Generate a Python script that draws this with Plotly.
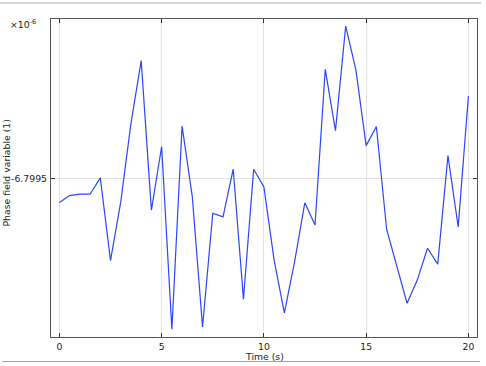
import plotly.graph_objects as go

time_s = [0, 0.5, 1, 1.5, 2, 2.5, 3, 3.5, 4, 4.5, 5, 5.5, 6, 6.5, 7, 7.5, 8, 8.5, 9, 9.5,
          10, 10.5, 11, 11.5, 12, 12.5, 13, 13.5, 14, 14.5, 15, 15.5, 16, 16.5, 17, 17.5,
          18, 18.5, 19, 19.5, 20]
# Phase field variable in units of 1e-6
phase_e6 = [-6.799553, -6.799538, -6.799535, -6.799535, -6.799499, -6.799681, -6.799552,
            -6.799379, -6.799241, -6.799570, -6.799430, -6.799832, -6.799385, -6.799541,
            -6.799827, -6.799577, -6.799585, -6.799480, -6.799766, -6.799480, -6.799519,
            -6.799680, -6.799796, -6.799684, -6.799554, -6.799603, -6.799260, -6.799395,
            -6.799165, -6.799262, -6.799428, -6.799386, -6.799612, -6.799691, -6.799775,
            -6.799724, -6.799654, -6.799689, -6.799450, -6.799607, -6.799319]
x_ticks = [0, 5, 10, 15, 20]
y_ticks = [-6.7995]
y_ticklabels = ["-6.7995"]

FONT = dict(family="DejaVu Sans", size=9.3, color="#222222")
PW, PH, L, B = 426, 318, 51, 29

fig = go.Figure()
fig.add_trace(go.Scatter(x=time_s, y=phase_e6, mode="lines",
                         line=dict(color="#2a46ff", width=1.2), showlegend=False))

axis_common = dict(showline=True, linecolor="#555555", linewidth=1.3, mirror="ticks",
                   ticks="inside", ticklen=4, tickcolor="#333333", showgrid=True,
                   gridcolor="#e3e3e3", gridwidth=1, zeroline=False, automargin=False,
                   tickfont=FONT)

fig.update_xaxes(range=[-0.41, 20.42], tickvals=x_ticks, ticklabelstandoff=1, **axis_common)
fig.update_yaxes(range=[-6.7998493, -6.7991493], tickvals=y_ticks, ticktext=y_ticklabels,
                 ticklabelstandoff=1, **axis_common)

fig.add_annotation(x=(264 - L) / PW, y=(337 - 356) / PH, xref="paper", yref="paper",
                   xanchor="center", yanchor="middle", text="Time (s)", showarrow=False,
                   font=FONT)
fig.add_annotation(x=(5.5 - L) / PW, y=(337 - 173) / PH, xref="paper", yref="paper",
                   xanchor="center", yanchor="middle", text="Phase field variable (1)",
                   textangle=-90, showarrow=False, font=FONT)
fig.add_annotation(x=(38 - L) / PW, y=(337 - 24) / PH, xref="paper", yref="paper",
                   xanchor="right", yanchor="middle", text="×10<sup>-6</sup>",
                   showarrow=False, font=FONT)

fig.add_shape(type="line", xref="paper", yref="paper", x0=-L / PW, x1=(481 - L) / PW,
              y0=(337 - 3) / PH, y1=(337 - 3) / PH, line=dict(color="#b0b0b0", width=1))
fig.add_shape(type="line", xref="paper", yref="paper", x0=(2 - L) / PW, x1=(480 - L) / PW,
              y0=(337 - 361.5) / PH, y1=(337 - 361.5) / PH, line=dict(color="#a0a0a0", width=1))

fig.update_layout(width=486, height=366, margin=dict(l=L, r=9, t=19, b=B),
                  paper_bgcolor="white", plot_bgcolor="white")
fig.write_html("out.html")
